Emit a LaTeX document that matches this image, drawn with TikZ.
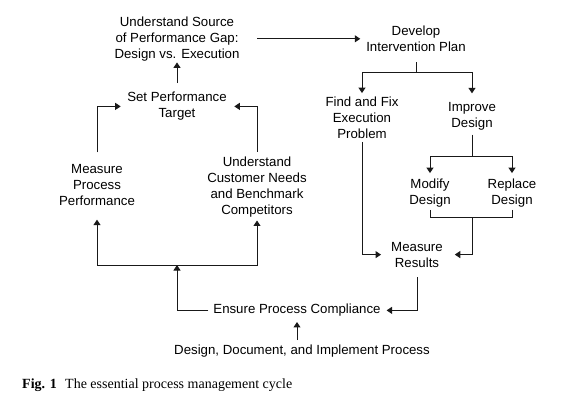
\documentclass[tikz,border=0pt]{standalone}
\usepackage{fontspec}
\setmainfont{Liberation Sans}
\newfontfamily\capfont{Liberation Serif}
\usetikzlibrary{arrows.meta}
\begin{document}
\begin{tikzpicture}[x=1pt,y=-1pt,
  lbl/.style={align=center,inner sep=0pt,outer sep=0pt,font=\fontsize{13.25}{16}\selectfont},
  conn/.style={line width=1pt,draw=black!90},
  arr/.style={conn,-{Triangle[length=5.5pt,width=7pt]}}]
\useasboundingbox (0,0) rectangle (564,406);

\node[lbl] (us) at (177,38.8) {Understand Source\\of Performance Gap:\\Design vs. Execution};
\node[lbl] (sp) at (177,106.4) {Set Performance\\Target};
\node[lbl] (mp) at (97,185.1) {Measure\\Process\\Performance};
\node[lbl] (uc) at (257,186.9) {Understand\\Customer Needs\\and Benchmark\\Competitors};
\node[lbl] (ep) at (297,310.4) {Ensure Process Compliance};
\node[lbl] (dd) at (302,351.4) {Design, Document, and Implement Process};
\node[lbl] (dv) at (416,38.5) {Develop\\Intervention Plan};
\node[lbl] (ff) at (362,118.1) {Find and Fix\\Execution\\Problem};
\node[lbl] (id) at (472,116.4) {Improve\\Design};
\node[lbl] (md) at (430,193.4) {Modify\\Design};
\node[lbl] (rd) at (512,193.4) {Replace\\Design};
\node[lbl] (mr) at (417,254.6) {Measure\\Results};

\coordinate (j1) at (416,73);
\coordinate (j2) at (472,157);
\coordinate (j3) at (472,217);
\coordinate (j4) at (177,265);

\draw[arr,shorten <=9.1pt,shorten >=1.4pt] (sp.north) -- (us.south);
\draw[arr,shorten <=12pt,shorten >=6.6pt] (mp.north) |- (sp.west);
\draw[arr,shorten <=5pt,shorten >=7.6pt] (uc.north) |- (sp.east);
\draw[arr,shorten <=18pt,shorten >=6pt] (us.east) -- (us.east -| dv.west);
\draw[conn,shorten <=10.9pt] (dv.south) -- (j1);
\draw[arr,shorten >=4.1pt] (j1) -| (ff.north);
\draw[arr,shorten >=9.1pt] (j1) -| (id.north);
\draw[conn,shorten <=4.4pt] (id.south) -- (j2);
\draw[arr,shorten >=6.1pt] (j2) -| (md.north);
\draw[arr,shorten >=6.1pt] (j2) -| (rd.north);
\draw[conn,shorten <=2.4pt] (md.south) |- (j3);
\draw[conn,shorten <=2.4pt] (rd.south) |- (j3);
\draw[arr,shorten >=12pt] (j3) |- (mr.east);
\draw[arr,shorten <=2.9pt,shorten >=10.2pt] (ff.south) |- (mr.west);
\draw[arr,shorten <=9.9pt,shorten >=6pt] (mr.south) |- (ep.east);
\draw[arr,shorten <=5pt] (ep.west) -| (j4);
\draw[arr,shorten >=13.9pt] (j4) -| (mp.south);
\draw[arr,shorten >=3.4pt] (j4) -| (uc.south);
\draw[arr,shorten <=5.1pt,shorten >=5.4pt] (dd.north -| ep.south) -- (ep.south);

\node[anchor=base west,inner sep=0pt,font=\capfont\fontsize{14}{16}\selectfont] (cap) at (22,388.5)
  {\textbf{Fig. 1}\hspace{0.6em}The essential process management cycle};
\end{tikzpicture}
\end{document}
